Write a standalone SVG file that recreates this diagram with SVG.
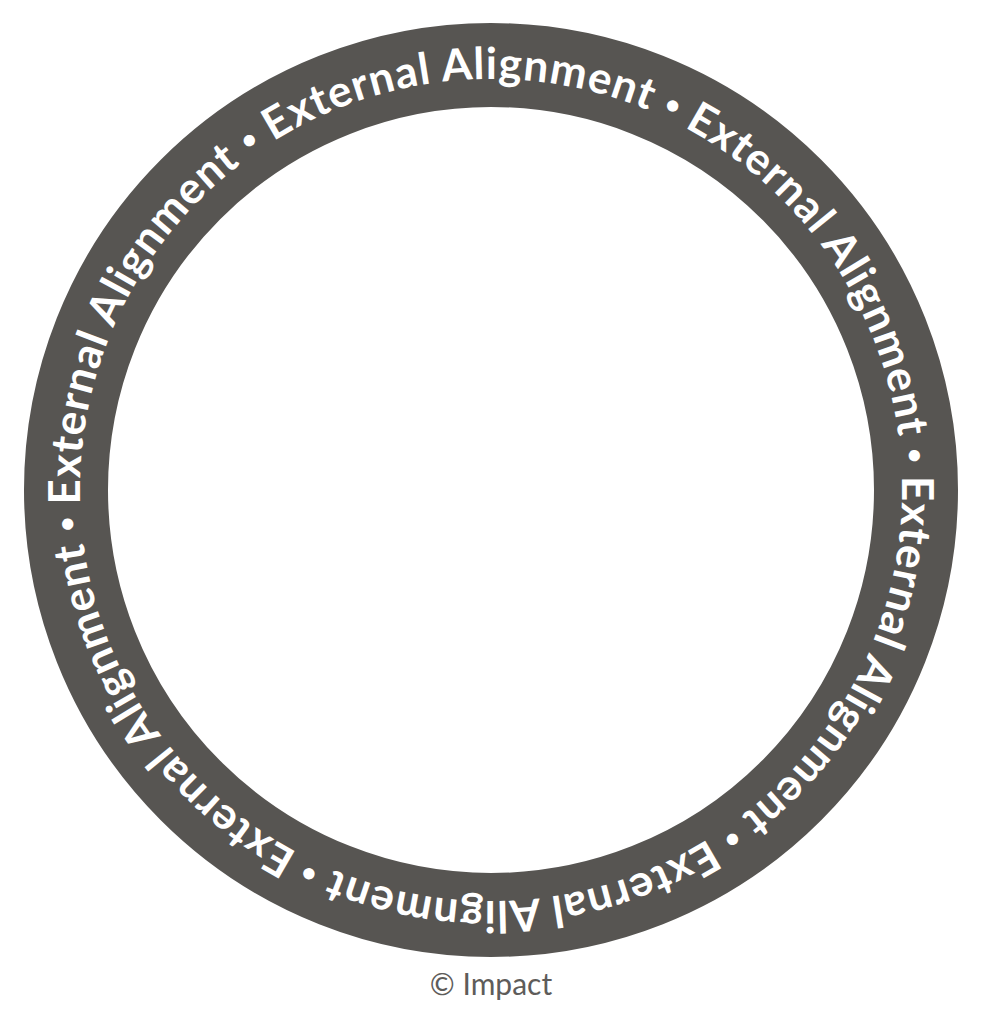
<svg xmlns="http://www.w3.org/2000/svg" xmlns:xlink="http://www.w3.org/1999/xlink" width="983" height="1024" viewBox="0 0 983 1024">
  <style>
    .ring { fill: none; stroke: #575552; stroke-width: 84; }
    .lbl { font-family: Lato, "Open Sans", "Liberation Sans", sans-serif; font-weight: 700; font-size: 44px; fill: #ffffff; letter-spacing: 1px; }
    .dot { font-family: Lato, "Open Sans", "Liberation Sans", sans-serif; font-weight: 700; font-size: 26px; fill: #ffffff; }
    .copy { font-family: Lato, "Open Sans", "Liberation Sans", sans-serif; font-weight: 400; font-size: 30px; fill: #5e5c5a; }
  </style>
  <defs>
    <path id="track" d="M81.38,523.68 A411,411 0 0 1 900.62,456.32 A411,411 0 0 1 81.38,523.68 A411,411 0 0 1 900.62,456.32 A411,411 0 0 1 81.38,523.68"/>
    <path id="track2" d="M75.38,524.17 A417,417 0 0 1 906.62,455.83 A417,417 0 0 1 75.38,524.17 A417,417 0 0 1 906.62,455.83 A417,417 0 0 1 75.38,524.17"/>
  </defs>
  <rect width="983" height="1024" fill="#ffffff"/>
  <g id="ring">
    <circle class="ring" cx="491" cy="490" r="425"/>
  </g>
  <g id="ring-labels" text-anchor="middle">
    <text class="lbl"><textPath xlink:href="#track" href="#track" startOffset="215.20">External Alignment</textPath></text>
    <text class="lbl"><textPath xlink:href="#track" href="#track" startOffset="645.60">External Alignment</textPath></text>
    <text class="lbl"><textPath xlink:href="#track" href="#track" startOffset="1076.00">External Alignment</textPath></text>
    <text class="lbl"><textPath xlink:href="#track" href="#track" startOffset="1506.39">External Alignment</textPath></text>
    <text class="lbl"><textPath xlink:href="#track" href="#track" startOffset="1936.79">External Alignment</textPath></text>
    <text class="lbl"><textPath xlink:href="#track" href="#track" startOffset="2367.19">External Alignment</textPath></text>
  </g>
  <g id="ring-bullets" text-anchor="middle">
    <text class="dot"><textPath xlink:href="#track2" href="#track2" startOffset="436.68">•</textPath></text>
    <text class="dot"><textPath xlink:href="#track2" href="#track2" startOffset="873.37">•</textPath></text>
    <text class="dot"><textPath xlink:href="#track2" href="#track2" startOffset="1310.05">•</textPath></text>
    <text class="dot"><textPath xlink:href="#track2" href="#track2" startOffset="1746.74">•</textPath></text>
    <text class="dot"><textPath xlink:href="#track2" href="#track2" startOffset="2183.42">•</textPath></text>
    <text class="dot"><textPath xlink:href="#track2" href="#track2" startOffset="2620.10">•</textPath></text>
  </g>
  <g id="copyright">
    <text class="copy" x="491" y="995" text-anchor="middle">© Impact</text>
  </g>
</svg>
